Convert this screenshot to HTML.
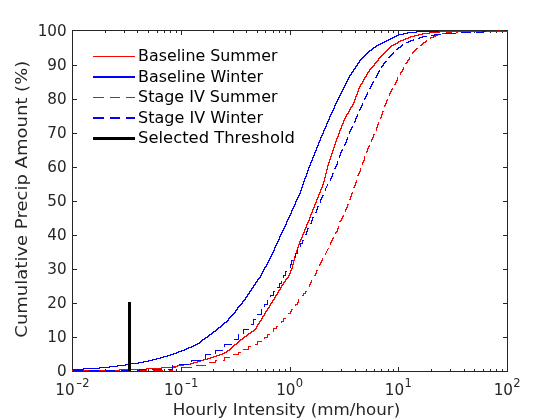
<!DOCTYPE html>
<html><head><meta charset="utf-8"><title>Cumulative Precip Amount</title>
<style>
html,body{margin:0;padding:0;background:#fff;}
svg{display:block}
text{font-family:"DejaVu Sans", "Liberation Sans", sans-serif;fill:#262626;}
.tk{font-size:15.2px}
.ex{font-size:11.5px}
.lb{font-size:16.5px}
.lg{font-size:15px;fill:#000}
</style></head><body>
<svg width="560" height="420" viewBox="0 0 560 420">
<rect width="560" height="420" fill="#fff"/>
<g stroke="#262626" stroke-width="1" fill="none" shape-rendering="crispEdges">
<rect x="72.5" y="30.5" width="435.0" height="341.0"/>
<path d="M105.24,371.5v-2.5 M105.24,30.5v2.5 M124.39,371.5v-2.5 M124.39,30.5v2.5 M137.97,371.5v-2.5 M137.97,30.5v2.5 M148.51,371.5v-2.5 M148.51,30.5v2.5 M157.12,371.5v-2.5 M157.12,30.5v2.5 M164.40,371.5v-2.5 M164.40,30.5v2.5 M170.71,371.5v-2.5 M170.71,30.5v2.5 M176.27,371.5v-2.5 M176.27,30.5v2.5 M181.25,371.5v-4.5 M181.25,30.5v4.5 M213.99,371.5v-2.5 M213.99,30.5v2.5 M233.14,371.5v-2.5 M233.14,30.5v2.5 M246.72,371.5v-2.5 M246.72,30.5v2.5 M257.26,371.5v-2.5 M257.26,30.5v2.5 M265.87,371.5v-2.5 M265.87,30.5v2.5 M273.15,371.5v-2.5 M273.15,30.5v2.5 M279.46,371.5v-2.5 M279.46,30.5v2.5 M285.02,371.5v-2.5 M285.02,30.5v2.5 M290.00,371.5v-4.5 M290.00,30.5v4.5 M322.74,371.5v-2.5 M322.74,30.5v2.5 M341.89,371.5v-2.5 M341.89,30.5v2.5 M355.47,371.5v-2.5 M355.47,30.5v2.5 M366.01,371.5v-2.5 M366.01,30.5v2.5 M374.62,371.5v-2.5 M374.62,30.5v2.5 M381.90,371.5v-2.5 M381.90,30.5v2.5 M388.21,371.5v-2.5 M388.21,30.5v2.5 M393.77,371.5v-2.5 M393.77,30.5v2.5 M398.75,371.5v-4.5 M398.75,30.5v4.5 M431.49,371.5v-2.5 M431.49,30.5v2.5 M450.64,371.5v-2.5 M450.64,30.5v2.5 M464.22,371.5v-2.5 M464.22,30.5v2.5 M474.76,371.5v-2.5 M474.76,30.5v2.5 M483.37,371.5v-2.5 M483.37,30.5v2.5 M490.65,371.5v-2.5 M490.65,30.5v2.5 M496.96,371.5v-2.5 M496.96,30.5v2.5 M502.52,371.5v-2.5 M502.52,30.5v2.5 M72.5,337.10h4.5 M507.5,337.10h-4.5 M72.5,303.10h4.5 M507.5,303.10h-4.5 M72.5,269.10h4.5 M507.5,269.10h-4.5 M72.5,235.10h4.5 M507.5,235.10h-4.5 M72.5,201.10h4.5 M507.5,201.10h-4.5 M72.5,167.10h4.5 M507.5,167.10h-4.5 M72.5,133.10h4.5 M507.5,133.10h-4.5 M72.5,99.10h4.5 M507.5,99.10h-4.5 M72.5,65.10h4.5 M507.5,65.10h-4.5"/>
</g>
<g fill="none" stroke-width="1.35" shape-rendering="crispEdges" stroke-linejoin="miter">
<path d="M72.5,369.5H83.5V368.5H99.5V367.5H109.5V366.5H117.5V365.5H125.5V364.5H130.5V363.5H138.5V362.5H143.5V361.5H148.5V360.5H152.5V359.5H156.5V358.5H160.5V357.5H163.5V356.5H167.5V355.5H170.5V354.5H173.5V353.5H176.5V352.5H178.5V351.5H181.5V350.5H184.5V349.5H186.5V348.5H188.5V347.5H191.5V346.5H193.5V345.5H195.5V344.5H197.5V343.5H199.5V342.5H200.5V341.5H201.5V340.5H202.5V339.5H204.5V338.5H205.5V337.5H207.5V336.5H208.5V335.5H209.5V334.5H211.5V333.5H212.5V332.5H213.5V331.5H215.5V330.5H216.5V329.5H217.5V328.5H218.5V327.5H220.5V326.5H221.5V325.5H222.5V324.5H223.5V323.5H224.5V322.5H226.5V321.5H227.5V320.5H228.5V318.5H229.5V317.5H230.5V316.5H231.5V315.5H232.5V314.5H233.5V313.5H234.5V312.5H235.5V310.5H236.5V309.5H237.5V307.5H238.5V306.5H239.5V305.5H240.5V304.5H241.5V303.5H242.5V301.5H243.5V300.5H244.5V299.5H245.5V297.5H246.5V296.5H247.5V294.5H248.5V293.5H249.5V291.5H250.5V290.5H251.5V288.5H252.5V287.5H253.5V285.5H254.5V284.5H255.5V282.5H256.5V281.5H257.5V279.5H258.5V278.5H259.5V277.5H260.5V275.5H261.5V273.5H262.5V271.5H263.5V269.5H264.5V267.5H265.5V266.5H266.5V264.5H267.5V262.5H268.5V260.5H269.5V258.5H270.5V256.5H271.5V254.5H272.5V252.5H273.5V250.5H274.5V247.5H275.5V245.5H276.5V243.5H277.5V241.5H278.5V239.5H279.5V236.5H280.5V234.5H281.5V232.5H282.5V230.5H283.5V228.5H284.5V226.5H285.5V224.5H286.5V221.5H287.5V219.5H288.5V217.5H289.5V215.5H290.5V213.5H291.5V210.5H292.5V208.5H293.5V206.5H294.5V204.5H295.5V201.5H296.5V199.5H297.5V197.5H298.5V195.5H299.5V193.5H300.5V190.5H301.5V187.5H302.5V184.5H303.5V181.5H304.5V178.5H305.5V176.5H306.5V173.5H307.5V170.5H308.5V167.5H309.5V165.5H310.5V162.5H311.5V160.5H312.5V157.5H313.5V155.5H314.5V152.5H315.5V150.5H316.5V147.5H317.5V145.5H318.5V142.5H319.5V140.5H320.5V137.5H321.5V135.5H322.5V133.5H323.5V130.5H324.5V128.5H325.5V126.5H326.5V123.5H327.5V121.5H328.5V119.5H329.5V116.5H330.5V114.5H331.5V112.5H332.5V110.5H333.5V108.5H334.5V105.5H335.5V103.5H336.5V101.5H337.5V99.5H338.5V97.5H339.5V95.5H340.5V93.5H341.5V91.5H342.5V89.5H343.5V87.5H344.5V85.5H345.5V83.5H346.5V81.5H347.5V79.5H348.5V77.5H349.5V75.5H350.5V74.5H351.5V72.5H352.5V71.5H353.5V69.5H354.5V68.5H355.5V66.5H356.5V65.5H357.5V63.5H358.5V62.5H359.5V60.5H360.5V59.5H361.5V58.5H362.5V57.5H363.5V56.5H364.5V55.5H365.5V54.5H366.5V53.5H367.5V52.5H368.5V51.5H369.5V50.5H371.5V49.5H372.5V48.5H373.5V47.5H375.5V46.5H376.5V45.5H378.5V44.5H380.5V43.5H382.5V42.5H384.5V41.5H386.5V40.5H388.5V39.5H390.5V38.5H392.5V37.5H394.5V36.5H396.5V35.5H398.5V34.5H403.5V33.5H407.5V32.5H416.5V31.5H507.5" stroke="#00f" stroke-width="1"/>
<path d="M72.5,370.5H119.5V369.5H146.5V368.5H161.5V367.5H173.5V366.5H177.5V365.5H183.5V364.5H190.5V363.5H193.5V362.5H197.5V361.5H200.5V360.5H203.5V359.5H207.5V358.5H210.5V357.5H213.5V356.5H216.5V355.5H219.5V354.5H222.5V353.5H224.5V352.5H226.5V351.5H227.5V350.5H229.5V349.5H230.5V348.5H231.5V347.5H232.5V346.5H233.5V345.5H234.5V344.5H236.5V343.5H237.5V342.5H238.5V341.5H239.5V340.5H240.5V339.5H242.5V338.5H243.5V337.5H244.5V336.5H246.5V335.5H247.5V334.5H248.5V333.5H250.5V332.5H251.5V331.5H253.5V330.5H254.5V329.5H255.5V328.5H256.5V326.5H257.5V324.5H258.5V323.5H259.5V321.5H260.5V320.5H261.5V318.5H262.5V316.5H263.5V315.5H264.5V313.5H265.5V311.5H266.5V310.5H267.5V308.5H268.5V307.5H269.5V305.5H270.5V303.5H271.5V302.5H272.5V300.5H273.5V299.5H274.5V297.5H275.5V295.5H276.5V294.5H277.5V292.5H278.5V290.5H279.5V289.5H280.5V287.5H281.5V285.5H282.5V284.5H283.5V282.5H284.5V281.5H285.5V279.5H286.5V278.5H287.5V277.5H288.5V275.5H289.5V273.5H290.5V270.5H291.5V268.5H292.5V264.5H293.5V260.5H294.5V256.5H295.5V253.5H296.5V250.5H297.5V247.5H298.5V244.5H299.5V241.5H300.5V239.5H301.5V237.5H302.5V234.5H303.5V232.5H304.5V229.5H305.5V227.5H306.5V224.5H307.5V222.5H308.5V220.5H309.5V217.5H310.5V214.5H311.5V212.5H312.5V209.5H313.5V207.5H314.5V204.5H315.5V202.5H316.5V199.5H317.5V197.5H318.5V194.5H319.5V192.5H320.5V189.5H321.5V187.5H322.5V184.5H323.5V181.5H324.5V177.5H325.5V173.5H326.5V169.5H327.5V165.5H328.5V162.5H329.5V159.5H330.5V156.5H331.5V153.5H332.5V150.5H333.5V147.5H334.5V144.5H335.5V141.5H336.5V138.5H337.5V136.5H338.5V133.5H339.5V130.5H340.5V128.5H341.5V125.5H342.5V123.5H343.5V120.5H344.5V118.5H345.5V116.5H346.5V114.5H347.5V113.5H348.5V111.5H349.5V109.5H350.5V107.5H351.5V106.5H352.5V104.5H353.5V102.5H354.5V99.5H355.5V96.5H356.5V94.5H357.5V91.5H358.5V88.5H359.5V86.5H360.5V84.5H361.5V83.5H362.5V81.5H363.5V79.5H364.5V77.5H365.5V76.5H366.5V74.5H367.5V72.5H368.5V71.5H369.5V69.5H370.5V68.5H371.5V67.5H372.5V66.5H373.5V65.5H374.5V63.5H375.5V62.5H376.5V61.5H377.5V60.5H378.5V58.5H379.5V57.5H380.5V56.5H381.5V55.5H382.5V54.5H383.5V53.5H384.5V52.5H385.5V51.5H386.5V50.5H387.5V49.5H388.5V48.5H389.5V47.5H390.5V46.5H391.5V45.5H393.5V44.5H395.5V43.5H397.5V42.5H398.5V41.5H400.5V40.5H403.5V39.5H405.5V38.5H408.5V37.5H410.5V36.5H414.5V35.5H418.5V34.5H422.5V33.5H429.5V32.5H439.5V31.5H507.5" stroke="#f00" stroke-width="1"/>
<path d="M72.5,370.5 82.5,370.5 M88.5,370.5 98.5,370.5 M104.5,370.5 114.5,370.5 M120.5,370.5 130.5,370.5 M136.5,370.5 139.9,370.5 146.5,370.5 M152.5,370.5 162.5,370.5 M168.5,370.5 172.6,370.5 172.6,367.5 175.5,367.5 M181.5,367.5 191.5,367.5 M195.5,365.5 205.4,365.5 205.4,365.4 M208.5,362.5 215.9,362.5 215.9,360.5 216.5,360.5 M222.5,360.5 224.5,360.5 224.5,357.5 229.5,357.5 M232.5,354.5 238.1,354.5 238.1,352.5 240.5,352.5 M243.7,349.7 243.7,349.5 248.7,349.5 248.7,346.5 250.5,346.5 M254.5,344.5 257.3,344.5 257.3,341.5 261.0,341.5 261.0,341.0 M264.5,338.5 264.5,337.1 267.8,337.1 267.8,334.4 270.4,334.4 M273.5,331.5 273.7,331.5 273.7,328.9 276.4,328.9 276.4,326.2 278.2,326.2 M281.4,323.4 281.4,321.1 283.7,321.1 283.7,318.6 285.9,318.6 285.9,317.9 M288.0,314.0 288.0,313.9 290.0,313.9 290.0,311.6 291.9,311.6 291.9,309.2 293.2,309.2 M295.6,305.6 295.6,304.7 297.3,304.7 297.3,302.3 298.9,302.3 298.9,299.3 299.3,299.3 M302.1,296.1 302.1,295.3 303.6,295.3 303.6,293.4 305.0,293.4 305.0,291.1 306.5,291.1 306.5,290.5 M308.5,286.5 309.1,286.5 309.1,284.3 310.4,284.3 310.4,282.0 311.7,282.0 311.7,279.7 M314.1,276.1 314.1,275.2 315.3,275.2 315.3,273.1 316.4,273.1 316.4,270.9 317.5,270.9 317.5,269.5 M319.7,265.7 319.7,264.5 320.7,264.5 320.7,262.5 321.7,262.5 321.7,260.7 322.7,260.7 322.7,258.9 322.9,258.9 M325.4,255.4 325.6,253.7 326.5,252.0 327.4,250.2 328.3,248.3" stroke="#f00" stroke-width="1"/>
<path d="M330.5,244.5 330.5,242.5 331.5,242.5 331.5,240.5 332.5,240.5 332.5,238.5 333.5,238.5 333.5,237.5 M335.5,233.5 335.5,232.5 336.5,232.5 336.5,231.5 337.5,231.5 337.5,228.5 338.5,228.5 338.5,226.5 M339.5,221.5 340.5,221.5 340.5,220.5 341.5,220.5 341.5,218.5 342.5,218.5 342.5,216.5 343.5,216.5 343.5,215.5 M345.5,211.5 345.5,209.5 346.5,209.5 346.5,207.5 347.5,207.5 347.5,204.5 348.5,204.5 M349.5,199.5 350.5,199.5 350.5,196.5 351.5,196.5 351.5,193.5 352.5,193.5 352.5,192.5 M353.5,187.5 354.5,187.5 354.5,185.5 355.5,185.5 355.5,182.5 356.5,182.5 356.5,180.5 M357.5,175.5 358.5,175.5 358.5,173.5 359.5,173.5 359.5,171.5 360.5,171.5 360.5,168.5 M362.5,164.5 362.5,162.5 363.5,162.5 363.5,160.5 364.5,160.5 364.5,156.5 M366.5,152.5 366.5,151.5 367.5,151.5 367.5,148.5 368.5,148.5 368.5,146.5 369.5,146.5 369.5,145.5 M371.5,141.5 371.5,139.5 372.5,139.5 372.5,137.5 373.5,137.5 373.5,134.5 374.5,134.5 M376.5,130.5 376.5,127.5 377.5,127.5 377.5,124.5 378.5,124.5 378.5,122.5 M380.5,118.5 380.5,117.5 381.5,117.5 381.5,114.5 382.5,114.5 382.5,111.5 383.5,111.5 M384.5,106.5 384.5,105.5 385.5,105.5 385.5,103.5 386.5,103.5 386.5,100.5 387.5,100.5 387.5,99.5 M389.5,95.5 389.5,93.5 390.5,93.5 390.5,91.5 391.5,91.5 391.5,89.5 392.5,89.5 392.5,88.5 M394.5,84.5 395.5,84.5 395.5,82.5 396.5,82.5 396.5,80.5 397.5,80.5 397.5,77.5 M400.5,74.5 400.5,72.5 401.5,72.5 401.5,71.5 402.5,71.5 402.5,69.5 403.5,69.5 403.5,67.5 M405.5,63.5 406.5,63.5 406.5,62.5 407.5,62.5 407.5,60.5 408.5,60.5 408.5,59.5 409.5,59.5 409.5,57.5 M412.5,53.5 412.5,52.5 413.5,52.5 413.5,51.5 414.5,51.5 414.5,50.5 415.5,50.5 415.5,49.5 416.5,49.5 416.5,48.5 417.5,48.5 M420.5,45.5 421.5,45.5 421.5,44.5 422.5,44.5 422.5,43.5 423.5,43.5 423.5,42.5 424.5,42.5 425.5,42.5 425.5,41.5 426.5,41.5 426.5,40.5 M430.5,38.5 430.5,37.5 431.5,37.5 432.5,37.5 433.5,37.5 433.5,36.5 434.5,36.5 435.5,36.5 435.5,35.5 436.5,35.5 437.5,35.5 M442.5,33.5 443.5,33.5 444.5,33.5 445.5,33.5 446.5,33.5 446.5,32.5 447.5,32.5 448.5,32.5 449.5,32.5 450.5,32.5 451.5,32.5 M456.5,32.5 457.5,32.5 457.5,31.5 458.5,31.5 459.5,31.5 460.5,31.5 461.5,31.5 462.5,31.5 463.5,31.5 464.5,31.5 465.5,31.5 466.5,31.5 M472.5,31.5 473.5,31.5 474.5,31.5 475.5,31.5 476.5,31.5 477.5,31.5 478.5,31.5 479.5,31.5 480.5,31.5 481.5,31.5 482.5,31.5 M488.5,31.5 489.5,31.5 490.5,31.5 491.5,31.5 492.5,31.5 493.5,31.5 494.5,31.5 495.5,31.5 496.5,31.5 497.5,31.5 498.5,31.5 M504.5,31.5 505.5,31.5 506.5,31.5 507.5,31.5" stroke="#f00" stroke-width="1" stroke-linecap="square"/>
<path d="M72.5,370.5 82.5,370.5 M88.5,370.5 98.5,370.5 M104.5,370.5 114.5,370.5 M120.5,370.5 130.5,370.5 M136.5,370.5 139.9,370.5 139.9,369.5 145.5,369.5 M151.5,369.5 161.5,369.5 M167.5,369.5 172.6,369.5 172.6,364.6 M178.5,364.5 188.5,364.5 M191.8,361.8 191.8,360.5 200.5,360.5 M205.4,359.4 205.4,354.5 210.5,354.5 M215.9,353.9 215.9,350.5 222.5,350.5 M224.5,346.5 224.5,344.5 231.8,344.5 231.8,343.8 M233.5,339.5 238.1,339.5 238.1,334.5 238.5,334.5 M243.7,333.7 243.7,329.5 248.7,329.5 248.7,328.7 M250.5,324.5 253.2,324.5 253.2,319.5 255.5,319.5 M257.3,315.3 257.3,314.5 261.0,314.5 261.0,309.0 M264.5,306.5 264.5,304.1 267.8,304.1 267.8,299.8 M270.9,296.9 270.9,295.2 273.7,295.2 273.7,291.2 275.2,291.2 M277.4,287.4 279.0,287.4 279.0,283.8 281.4,283.8 281.4,281.4 M283.7,277.7 283.7,275.2 285.9,275.2 285.9,271.4 287.4,271.4 M290.0,268.0 290.0,264.8 291.9,264.8 291.9,260.9 292.9,260.9 M295.0,257.0 295.6,257.0 295.6,253.2 297.3,253.2 297.3,249.8 297.8,249.8 M300.5,246.5 300.5,246.5 300.5,243.4 302.1,243.4 302.1,240.3 303.6,240.3 303.6,239.6 M305.0,235.0 305.0,234.5 306.5,234.5 306.5,231.7 307.8,231.7 307.8,228.9 308.9,228.9 M310.4,224.4 310.4,223.2 311.7,223.2 311.7,220.4 312.9,220.4 312.9,217.5 313.5,217.5 M315.3,213.3 315.3,212.0 316.4,212.0 316.4,209.3 317.5,209.3 317.5,206.9 318.6,206.9 318.6,206.6 M320.2,202.2 320.7,202.2 320.7,199.9 321.7,199.9 321.7,197.7 322.7,197.7 322.7,195.5 323.5,195.5 M325.3,191.3 325.6,189.3 326.5,187.3 327.4,185.1 328.3,184.3" stroke="#00f" stroke-width="1"/>
<path d="M330.5,180.5 330.5,178.5 331.5,178.5 331.5,176.5 332.5,176.5 332.5,173.5 333.5,173.5 M334.5,168.5 335.5,168.5 335.5,166.5 336.5,166.5 336.5,164.5 337.5,164.5 337.5,161.5 M339.5,157.5 339.5,155.5 340.5,155.5 340.5,152.5 341.5,152.5 341.5,150.5 342.5,150.5 342.5,149.5 M344.5,145.5 344.5,144.5 345.5,144.5 345.5,142.5 346.5,142.5 346.5,139.5 347.5,139.5 347.5,137.5 M349.5,133.5 349.5,131.5 350.5,131.5 350.5,129.5 351.5,129.5 351.5,127.5 352.5,127.5 352.5,126.5 M354.5,122.5 354.5,121.5 355.5,121.5 355.5,118.5 356.5,118.5 356.5,116.5 357.5,116.5 357.5,114.5 M359.5,110.5 359.5,109.5 360.5,109.5 360.5,107.5 361.5,107.5 361.5,105.5 362.5,105.5 362.5,103.5 M364.5,99.5 364.5,98.5 365.5,98.5 365.5,96.5 366.5,96.5 366.5,94.5 367.5,94.5 367.5,92.5 M369.5,88.5 370.5,88.5 370.5,86.5 371.5,86.5 371.5,84.5 372.5,84.5 372.5,82.5 373.5,82.5 373.5,81.5 M375.5,77.5 376.5,77.5 376.5,75.5 377.5,75.5 377.5,73.5 378.5,73.5 378.5,71.5 379.5,71.5 379.5,70.5 M381.5,67.5 381.5,66.5 382.5,66.5 382.5,65.5 383.5,65.5 383.5,63.5 384.5,63.5 384.5,62.5 385.5,62.5 385.5,61.5 386.5,61.5 M388.5,57.5 389.5,57.5 389.5,56.5 390.5,56.5 390.5,55.5 391.5,55.5 391.5,54.5 392.5,54.5 392.5,53.5 393.5,53.5 393.5,52.5 M396.5,49.5 397.5,49.5 397.5,48.5 398.5,48.5 398.5,47.5 399.5,47.5 400.5,47.5 400.5,46.5 401.5,46.5 401.5,45.5 402.5,45.5 402.5,44.5 M406.5,42.5 407.5,42.5 408.5,42.5 408.5,41.5 409.5,41.5 410.5,41.5 410.5,40.5 411.5,40.5 412.5,40.5 413.5,40.5 413.5,39.5 M418.5,38.5 419.5,38.5 419.5,37.5 420.5,37.5 421.5,37.5 422.5,37.5 422.5,36.5 423.5,36.5 424.5,36.5 425.5,36.5 426.5,36.5 M431.5,35.5 432.5,35.5 433.5,35.5 434.5,35.5 434.5,34.5 435.5,34.5 436.5,34.5 437.5,34.5 438.5,34.5 439.5,34.5 440.5,34.5 M445.5,33.5 446.5,33.5 447.5,33.5 448.5,33.5 449.5,33.5 450.5,33.5 451.5,33.5 452.5,33.5 453.5,33.5 454.5,33.5 455.5,33.5 M461.5,32.5 462.5,32.5 463.5,32.5 464.5,32.5 465.5,32.5 466.5,32.5 467.5,32.5 468.5,32.5 469.5,32.5 470.5,32.5 M476.5,32.5 477.5,32.5 478.5,32.5 479.5,32.5 480.5,32.5 481.5,32.5 482.5,32.5 482.5,31.5 483.5,31.5 484.5,31.5 485.5,31.5" stroke="#00f" stroke-width="1" stroke-linecap="square"/>
</g>
<rect x="72" y="370" width="1" height="1" fill="#f00"/><rect x="498" y="30" width="2" height="1" fill="#f00"/>
<rect x="128" y="302" width="3" height="69" fill="#000"/>
<text class="tk" x="66.7" y="375.8" text-anchor="end">0</text>
<text class="tk" x="66.7" y="341.8" text-anchor="end">10</text>
<text class="tk" x="66.7" y="307.8" text-anchor="end">20</text>
<text class="tk" x="66.7" y="273.8" text-anchor="end">30</text>
<text class="tk" x="66.7" y="239.8" text-anchor="end">40</text>
<text class="tk" x="66.7" y="205.8" text-anchor="end">50</text>
<text class="tk" x="66.7" y="171.8" text-anchor="end">60</text>
<text class="tk" x="66.7" y="137.8" text-anchor="end">70</text>
<text class="tk" x="66.7" y="103.8" text-anchor="end">80</text>
<text class="tk" x="66.7" y="69.8" text-anchor="end">90</text>
<text class="tk" x="66.7" y="35.8" text-anchor="end">100</text>
<text class="tk" x="74.6" y="394.8" text-anchor="end">10</text><text class="ex" x="76.3" y="387" textLength="6" lengthAdjust="spacingAndGlyphs">−</text><text class="ex" x="82.2" y="387">2</text>
<text class="tk" x="183.3" y="394.8" text-anchor="end">10</text><text class="ex" x="185.1" y="387" textLength="6" lengthAdjust="spacingAndGlyphs">−</text><text class="ex" x="190.9" y="387">1</text>
<text class="tk" x="295.5" y="394.8" text-anchor="end">10</text><text class="ex" x="295.8" y="387">0</text>
<text class="tk" x="404.2" y="394.8" text-anchor="end">10</text><text class="ex" x="404.6" y="387">1</text>
<text class="tk" x="513.0" y="394.8" text-anchor="end">10</text><text class="ex" x="513.3" y="387">2</text>
<text class="lb" x="286.45" y="414.5" text-anchor="middle" textLength="227.5" lengthAdjust="spacingAndGlyphs">Hourly Intensity (mm/hour)</text>
<text class="lb" transform="translate(27.3,199.2) rotate(-90)" text-anchor="middle" textLength="277" lengthAdjust="spacingAndGlyphs">Cumulative Precip Amount (%)</text>
<path d="M93,56.5H135" stroke="#f00" stroke-width="1" fill="none" shape-rendering="crispEdges"/>
<text class="lg" x="138.1" y="61.3" textLength="139.4" lengthAdjust="spacingAndGlyphs">Baseline Summer</text>
<path d="M93,77H135" stroke="#00f" stroke-width="2" fill="none" shape-rendering="crispEdges"/>
<text class="lg" x="138.1" y="81.5" textLength="124.9" lengthAdjust="spacingAndGlyphs">Baseline Winter</text>
<path d="M93,97.5H135" stroke="#f00" stroke-width="1" stroke-dasharray="10.7 5.9" fill="none" shape-rendering="crispEdges"/>
<text class="lg" x="138.1" y="102" textLength="139.4" lengthAdjust="spacingAndGlyphs">Stage IV Summer</text>
<path d="M93,118H135" stroke="#00f" stroke-width="2" stroke-dasharray="10.7 5.9" fill="none" shape-rendering="crispEdges"/>
<text class="lg" x="138.1" y="122.5" textLength="124.9" lengthAdjust="spacingAndGlyphs">Stage IV Winter</text>
<path d="M93,138.5H135" stroke="#000" stroke-width="3" fill="none" shape-rendering="crispEdges"/>
<text class="lg" x="138.1" y="142.5" textLength="156.8" lengthAdjust="spacingAndGlyphs">Selected Threshold</text>
</svg></body></html>
